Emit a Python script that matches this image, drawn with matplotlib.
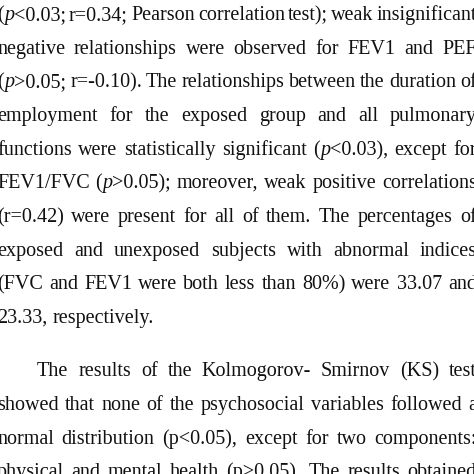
import matplotlib
matplotlib.use("Agg")
import matplotlib.pyplot as plt

W = H = 474
FONT = "Liberation Serif"
SIZE = 14.5

# text lines (*p* marks italic), baseline y in px from top, left x, justify flag
LINES = [
    ("(*p*<0.03; r=0.34; Pearson correlation test); weak insignificant", 20, -3, True),
    ("negative relationships were observed for FEV1 and PEF", 54, -3, True),
    ("(*p*>0.05; r=-0.10). The relationships between the duration of", 87, -3, True),
    ("employment for the exposed group and all pulmonary", 121, -3, True),
    ("functions were statistically significant (*p*<0.03), except for", 155, -3, True),
    ("FEV1/FVC (*p*>0.05); moreover, weak positive correlations", 188, -3, True),
    ("(r=0.42) were present for all of them. The percentages of", 222, -3, True),
    ("exposed and unexposed subjects with abnormal indices", 256, -3, True),
    ("(FVC and FEV1 were both less than 80%) were 33.07 and", 289, -3, True),
    ("23.33, respectively.", 323, -3, False),
    ("The results of the Kolmogorov- Smirnov (KS) test", 376, 37, True),
    ("showed that none of the psychosocial variables followed a", 410, -3, True),
    ("normal distribution (p<0.05), except for two components:", 444, -3, True),
    ("physical and mental health (p>0.05). The results obtained", 477, -3, True),
]
RIGHT = 477

fig = plt.figure(figsize=(W / 100, H / 100), dpi=100)
fig.patch.set_facecolor("white")
r = fig.canvas.get_renderer()


def segs(word):
    parts = word.split("*")
    return [(p, i % 2 == 1) for i, p in enumerate(parts) if p]


def seg_width(s, it):
    t = fig.text(0, 0, s, family=FONT, size=SIZE, style="italic" if it else "normal")
    w = t.get_window_extent(r).width
    t.remove()
    return w


for line, y, x0, just in LINES:
    words = line.split(" ")
    wsegs = [segs(w) for w in words]
    widths = [[seg_width(s, it) for s, it in ws] for ws in wsegs]
    total = sum(sum(w) for w in widths)
    n = len(words)
    if just and n > 1:
        gap = (RIGHT - x0 - total) / (n - 1)
    else:
        gap = SIZE * 0.35
    x = x0
    for ws, wl in zip(wsegs, widths):
        for (s, it), w in zip(ws, wl):
            fig.text(x / W, 1 - y / H, s, family=FONT, size=SIZE,
                     style="italic" if it else "normal", va="baseline", color="#111111")
            x += w
        x += gap

fig.savefig("out.png", dpi=100)
